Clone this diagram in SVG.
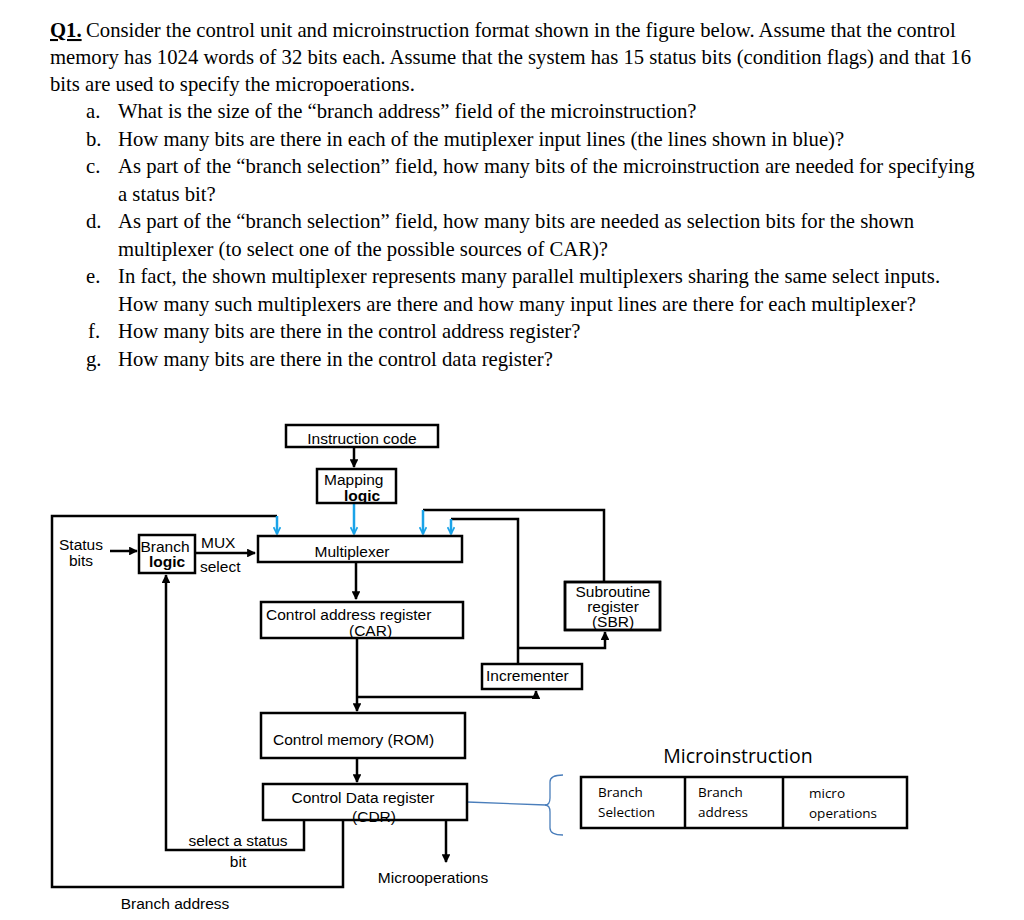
<svg xmlns="http://www.w3.org/2000/svg" width="1024" height="920" viewBox="0 0 1024 920">
<style>
.q{font-family:"Liberation Serif","Times New Roman",serif;font-size:20.7px;fill:#000}
.d{font-family:"Liberation Sans",Arial,sans-serif;font-size:15.5px;fill:#000}
.m{font-family:"Open Sans","Noto Sans",sans-serif;font-size:13.5px;fill:#000}
.box{fill:#fff;stroke:#000;stroke-width:2.5}
.ln{fill:none;stroke:#000;stroke-width:2.5}
.bl{fill:none;stroke:#1aa3e8;stroke-width:2.5}
</style>
<defs>
<marker id="ah" viewBox="0 0 10 10" refX="9" refY="5" markerWidth="3.5" markerHeight="3.5" orient="auto" markerUnits="strokeWidth">
<path d="M0,0 L10,5 L0,10 z" fill="#000"/>
</marker>
<marker id="bh" viewBox="0 0 10 10" refX="9" refY="5" markerWidth="3.4" markerHeight="3.4" orient="auto" markerUnits="strokeWidth">
<path d="M1,1 L9,5 L1,9" fill="none" stroke="#1aa3e8" stroke-width="2"/>
</marker>
</defs>
<rect width="1024" height="920" fill="#fff"/>

<g id="question">
<text class="q" x="50" y="37" font-weight="bold" text-decoration="underline">Q1.</text>
<text class="q" x="86" y="37">Consider the control unit and microinstruction format shown in the figure below. Assume that the control</text>
<text class="q" x="50" y="64">memory has 1024 words of 32 bits each. Assume that the system has 15 status bits (condition flags) and that 16</text>
<text class="q" x="50" y="91">bits are used to specify the micropoerations.</text>
<text class="q" x="86" y="118">a.</text>
<text class="q" x="118" y="118">What is the size of the “branch address” field of the microinstruction?</text>
<text class="q" x="86" y="146">b.</text>
<text class="q" x="118" y="146">How many bits are there in each of the mutiplexer input lines (the lines shown in blue)?</text>
<text class="q" x="86" y="173">c.</text>
<text class="q" x="118" y="173">As part of the “branch selection” field, how many bits of the microinstruction are needed for specifying</text>
<text class="q" x="118" y="201">a status bit?</text>
<text class="q" x="86" y="228">d.</text>
<text class="q" x="118" y="228">As part of the “branch selection” field, how many bits are needed as selection bits for the shown</text>
<text class="q" x="118" y="256">multiplexer (to select one of the possible sources of CAR)?</text>
<text class="q" x="86" y="283">e.</text>
<text class="q" x="118" y="283">In fact, the shown multiplexer represents many parallel multiplexers sharing the same select inputs.</text>
<text class="q" x="118" y="311">How many such multiplexers are there and how many input lines are there for each multiplexer?</text>
<text class="q" x="88" y="338">f.</text>
<text class="q" x="118" y="338">How many bits are there in the control address register?</text>
<text class="q" x="86" y="366">g.</text>
<text class="q" x="118" y="366">How many bits are there in the control data register?</text>
</g>

<g id="connectors">
<path class="ln" d="M343,820 V887 H52 V516 H277"/>
<path class="ln" d="M304,820 V850 H166 V575" marker-end="url(#ah)"/>
<path class="ln" d="M110,551 H137" marker-end="url(#ah)"/>
<path class="ln" d="M195,553 H255" marker-end="url(#ah)"/>
<path class="ln" d="M354,447 V467" marker-end="url(#ah)"/>
<path class="ln" d="M356,563 V599" marker-end="url(#ah)"/>
<path class="ln" d="M357,638 V711" marker-end="url(#ah)"/>
<path class="ln" d="M357,697 H536 V691" marker-end="url(#ah)"/>
<path class="ln" d="M518,663 V519 H451"/>
<path class="ln" d="M518,648 H605 V632" marker-end="url(#ah)"/>
<path class="ln" d="M604,581 V510 H423"/>
<path class="ln" d="M357,758 V782" marker-end="url(#ah)"/>
<path class="ln" d="M446,820 V862" marker-end="url(#ah)"/>
<path class="bl" d="M277,516 V534" marker-end="url(#bh)"/>
<path class="bl" d="M354,503 V534" marker-end="url(#bh)"/>
<path class="bl" d="M423,510 V534" marker-end="url(#bh)"/>
<path class="bl" d="M451,519 V534" marker-end="url(#bh)"/>
<path d="M467,802 L546,805" fill="none" stroke="#4a7ebb" stroke-width="1.3"/>
<path d="M563,775 Q550,775 550,782 V798 Q550,805 545,805 Q550,805 550,812 V828 Q550,835 563,835" fill="none" stroke="#4a7ebb" stroke-width="1.3"/>
</g>

<g id="instruction-code">
<rect class="box" x="286" y="425" width="152" height="22"/>
<text class="d" x="362" y="444" text-anchor="middle">Instruction code</text>
</g>

<g id="mapping-logic">
<text class="d" x="324" y="485">Mapping</text>
<text class="d" x="344" y="501" font-weight="bold" font-size="15">logic</text>
<rect x="317" y="469" width="79" height="34" fill="none" stroke="#000" stroke-width="2.5"/>
</g>

<g id="multiplexer">
<rect class="box" x="258" y="536" width="204" height="26"/>
<text class="d" x="352" y="557" text-anchor="middle">Multiplexer</text>
</g>

<g id="status-bits">
<text class="d" x="81" y="550" text-anchor="middle" font-size="15">Status</text>
<text class="d" x="81" y="566" text-anchor="middle" font-size="15">bits</text>
</g>

<g id="branch-logic">
<rect class="box" x="139" y="535" width="56" height="38"/>
<text class="d" x="165" y="552" text-anchor="middle" font-size="12.3">Branch</text>
<text class="d" x="167" y="567" text-anchor="middle" font-size="13" font-weight="bold">logic</text>
</g>

<g id="mux-select">
<text class="d" x="201" y="548" font-size="15">MUX</text>
<text class="d" x="200" y="572" font-size="15">select</text>
</g>

<g id="car">
<text class="d" x="266" y="620" font-size="16">Control address register</text>
<text class="d" x="349" y="636" font-size="16">(CAR)</text>
<rect x="261" y="602" width="202" height="36" fill="none" stroke="#000" stroke-width="2.5"/>
</g>

<g id="sbr">
<rect class="box" x="565" y="582" width="95" height="48"/>
<text class="d" x="613" y="597" text-anchor="middle" font-size="15">Subroutine</text>
<text class="d" x="613" y="612" text-anchor="middle" font-size="15">register</text>
<text class="d" x="613" y="627" text-anchor="middle" font-size="15">(SBR)</text>
<rect x="565" y="582" width="95" height="48" fill="none" stroke="#000" stroke-width="2.5"/>
</g>

<g id="incrementer">
<rect class="box" x="482" y="664" width="100" height="25"/>
<text class="d" x="486" y="681" font-size="16">Incrementer</text>
</g>

<g id="rom">
<rect class="box" x="261" y="713" width="204" height="45"/>
<text class="d" x="273" y="745" font-size="16">Control memory (ROM)</text>
</g>

<g id="cdr">
<text class="d" x="363" y="803" text-anchor="middle" font-size="16">Control Data register</text>
<text class="d" x="374" y="822" text-anchor="middle" font-size="16">(CDR)</text>
<rect x="263" y="784" width="204" height="36" fill="none" stroke="#000" stroke-width="2.5"/>
</g>

<g id="labels">
<text class="d" x="238" y="846" text-anchor="middle" font-size="15">select a status</text>
<text class="d" x="238" y="867" text-anchor="middle" font-size="15">bit</text>
<text class="d" x="175" y="909" text-anchor="middle" font-size="15">Branch address</text>
<text class="d" x="433" y="883" text-anchor="middle" font-size="15">Microoperations</text>
</g>

<g id="microinstruction">
<text x="738" y="763" text-anchor="middle" font-family="Open Sans, Noto Sans, sans-serif" font-size="19.5" fill="#000">Microinstruction</text>
<rect x="581" y="777" width="326" height="51" fill="#fff" stroke="#000" stroke-width="2.5"/>
<line x1="685" y1="777" x2="685" y2="828" stroke="#000" stroke-width="2.5"/>
<line x1="783" y1="777" x2="783" y2="828" stroke="#000" stroke-width="2.5"/>
<text class="m" x="598" y="797">Branch</text>
<text class="m" x="598" y="817">Selection</text>
<text class="m" x="698" y="797">Branch</text>
<text class="m" x="698" y="817">address</text>
<text class="m" x="809" y="798">micro</text>
<text class="m" x="809" y="818">operations</text>
</g>
</svg>
